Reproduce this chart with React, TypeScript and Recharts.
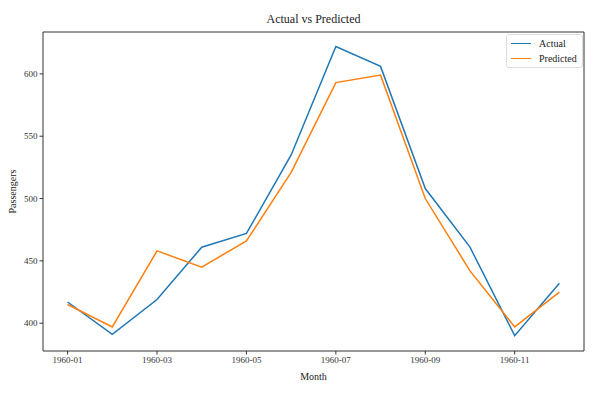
import React from "react";
import { LineChart, Line, XAxis, YAxis, ReferenceLine } from "recharts";

const months = ["1960-01","1960-02","1960-03","1960-04","1960-05","1960-06","1960-07","1960-08","1960-09","1960-10","1960-11","1960-12"];
const actual = [417, 391, 419, 461, 472, 535, 622, 606, 508, 461, 390, 432];
const predicted = [415, 397, 458, 445, 466, 521, 593, 599, 500, 442, 397, 425];
const xTicks = [0, 2, 4, 6, 8, 10];
const yTicks = [400, 450, 500, 550, 600];

const data = months.map((m, i) => ({ i, month: m, actual: actual[i], predicted: predicted[i] }));

const FONT = "'Liberation Serif', 'DejaVu Serif', serif";
const BLUE = "#1f77b4";
const ORANGE = "#ff7f0e";
const X_MIN = -0.55;
const X_MAX = 11.55;
const Y_MIN = 377.7;
const Y_MAX = 633.6;

export default function App() {
  return (
    <div style={{ position: "absolute", left: 0, top: 0, width: 600, height: 393, background: "#fff", fontFamily: FONT }}>
      <div style={{ position: "absolute", top: 12, left: 43, width: 541, textAlign: "center", fontSize: 12, color: "#222" }}>
        Actual vs Predicted
      </div>
      <LineChart width={600} height={393} data={data} margin={{ top: 32, right: 16, left: 0, bottom: 0 }}>
        <XAxis
          dataKey="i"
          type="number"
          domain={[X_MIN, X_MAX]}
          ticks={xTicks}
          tickFormatter={(v: number) => months[v]}
          height={42}
          tickSize={3.5}
          stroke="#333"
          tick={{ fontSize: 9, fill: "#333", fontFamily: FONT }}
          label={{ value: "Month", position: "insideBottom", offset: 13, fontSize: 10, fill: "#222", fontFamily: FONT }}
        />
        <YAxis
          type="number"
          domain={[Y_MIN, Y_MAX]}
          ticks={yTicks}
          width={43}
          tickSize={3.5}
          stroke="#333"
          tick={{ fontSize: 9, fill: "#333", fontFamily: FONT }}
          label={{ value: "Passengers", angle: -90, position: "insideLeft", offset: 12, fontSize: 10, fill: "#222", fontFamily: FONT, style: { textAnchor: "middle" } }}
        />
        <ReferenceLine y={Y_MAX} stroke="#333" strokeWidth={1} />
        <ReferenceLine x={X_MAX} stroke="#333" strokeWidth={1} />
        <Line dataKey="actual" stroke={BLUE} strokeWidth={1.5} dot={false} isAnimationActive={false} />
        <Line dataKey="predicted" stroke={ORANGE} strokeWidth={1.5} dot={false} isAnimationActive={false} />
      </LineChart>
      <div style={{ position: "absolute", left: 506, top: 34, width: 75, height: 32, border: "1px solid #ddd", borderRadius: 3, background: "rgba(255,255,255,0.8)", fontSize: 10, color: "#222" }}>
        <div style={{ display: "flex", alignItems: "center", height: 15, marginTop: 1 }}>
          <div style={{ width: 20, height: 1.5, background: BLUE, marginLeft: 4, marginRight: 8 }} />
          <span>Actual</span>
        </div>
        <div style={{ display: "flex", alignItems: "center", height: 15 }}>
          <div style={{ width: 20, height: 1.5, background: ORANGE, marginLeft: 4, marginRight: 8 }} />
          <span>Predicted</span>
        </div>
      </div>
    </div>
  );
}
